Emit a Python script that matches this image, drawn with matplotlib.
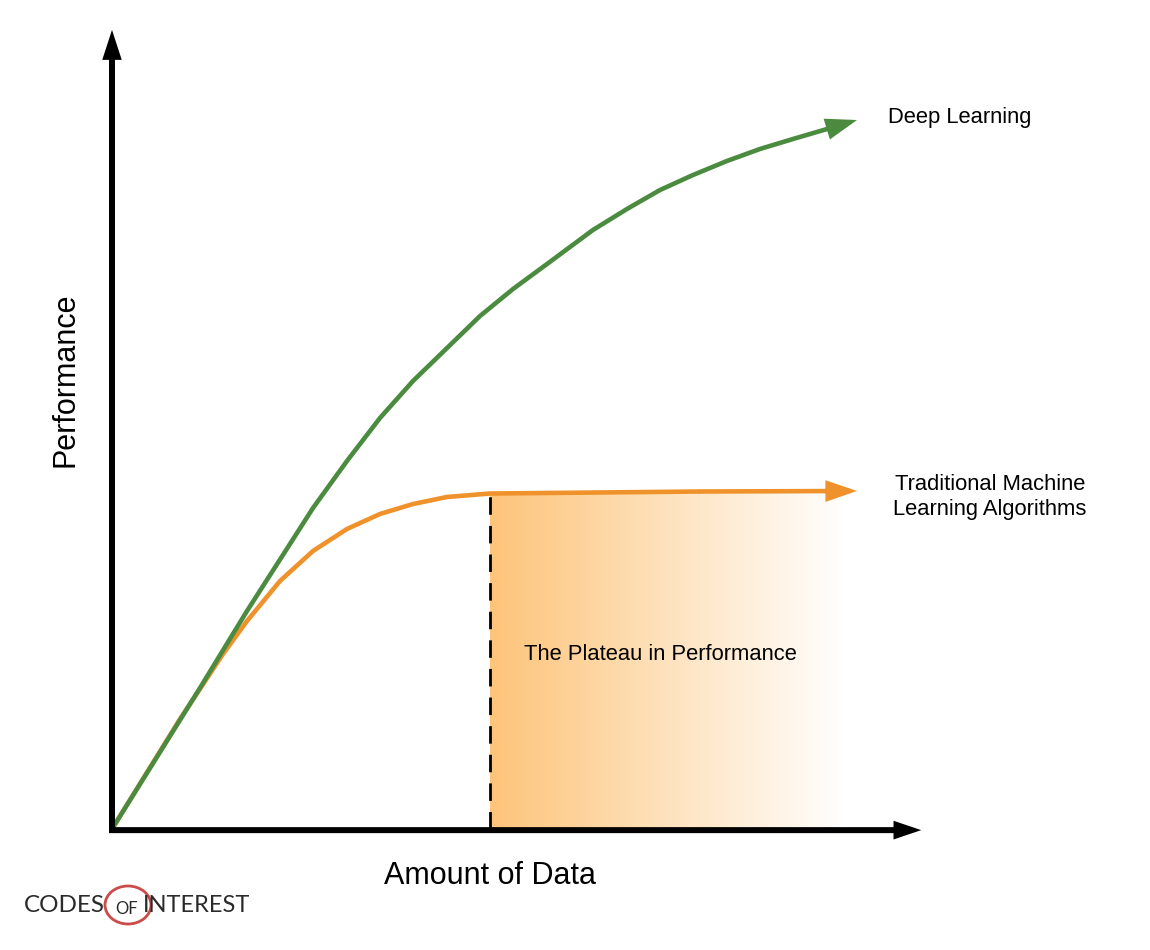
import numpy as np
import matplotlib
matplotlib.use("Agg")
import matplotlib.pyplot as plt
from matplotlib.colors import LinearSegmentedColormap
from matplotlib.patches import Circle

# ---- data (arbitrary units: amount of data vs. performance) ----
dl_x = [0.0, 11.73, 18.0, 23.73, 26.8, 31.33, 35.73, 40.13, 44.67, 49.07, 53.47, 58.0,
        64.13, 68.67, 73.07, 77.47, 82.0, 86.4, 90.8, 95.33, 99.33]
dl_y = [0.0, 18.8, 29.07, 38.0, 42.8, 49.07, 54.8, 59.73, 64.13, 68.4, 72.0, 75.33,
        79.87, 82.67, 85.2, 87.2, 89.07, 90.67, 92.0, 93.33, 94.53]

ml_x = [0.0, 9.07, 11.73, 14.8, 18.0, 22.4, 26.8, 31.33, 35.73, 40.13, 44.67, 50.4,
        65.07, 78.4, 99.33]
ml_y = [0.0, 14.67, 18.67, 23.33, 27.73, 33.07, 37.07, 40.0, 42.0, 43.33, 44.27, 44.73,
        44.87, 45.0, 45.07]

plateau_start = 50.4
plateau_end = 97.5
plateau_level = 44.7

labels = {
    "dl": "Deep Learning",
    "ml": "Traditional Machine\nLearning Algorithms",
    "plateau": "The Plateau in Performance",
    "x": "Amount of Data",
    "y": "Performance",
}

GREEN = "#4B8B3F"
ORANGE = "#F0922B"
FONT = ["Liberation Sans", "DejaVu Sans"]

fig = plt.figure(figsize=(11.5, 9.5), dpi=100)
ax = fig.add_axes([0, 0, 1, 1])
ax.set_xlim(-14.933, 138.4)
ax.set_ylim(-16.133, 110.533)
ax.axis("off")

# gradient plateau region
cmap = LinearSegmentedColormap.from_list("fade", ["#FDC47A", "#FEE2BD", "#FFFFFF"])
grad = np.linspace(0, 1, 256).reshape(1, -1)
ax.imshow(grad, cmap=cmap, extent=[plateau_start, plateau_end, 0, plateau_level],
          aspect="auto", zorder=1, interpolation="bilinear")

# dashed vertical line
ax.plot([plateau_start, plateau_start], [0, plateau_level], color="black", lw=2.0,
        dashes=(6.3, 4), zorder=2)

# curves
arrow_style = "-|>,head_length=1.6,head_width=0.55"
ax.plot(ml_x[:-1], ml_y[:-1], color=ORANGE, lw=3.3, zorder=3, solid_capstyle="butt",
        solid_joinstyle="round")
ax.annotate("", xy=(ml_x[-1], ml_y[-1]), xytext=(ml_x[-2], ml_y[-2]),
            arrowprops=dict(arrowstyle=arrow_style, color=ORANGE, lw=3.3,
                            shrinkA=0, shrinkB=0, joinstyle="miter"), zorder=3)
ax.plot(dl_x[:-1], dl_y[:-1], color=GREEN, lw=3.3, zorder=3, solid_capstyle="butt",
        solid_joinstyle="round")
ax.annotate("", xy=(dl_x[-1], dl_y[-1]), xytext=(dl_x[-2], dl_y[-2]),
            arrowprops=dict(arrowstyle=arrow_style, color=GREEN, lw=3.3,
                            shrinkA=0, shrinkB=0, joinstyle="miter"), zorder=3)

# axes arrows
ax.arrow(0, -0.45, 0, 107.0, width=0.8, head_width=2.6, head_length=4.0,
         length_includes_head=True, lw=0, color="black", zorder=5)
ax.arrow(-0.4, -0.15, 108.3, 0, width=0.8, head_width=2.5, head_length=3.7,
         length_includes_head=True, lw=0, color="black", zorder=5)

# labels
def fx(px):
    return px / 1150.0

def fy(py):
    return 1 - py / 950.0

fig.text(fx(888), fy(117), labels["dl"], fontsize=15.8, family=FONT, ha="left", va="center")
fig.text(fx(990), fy(497), labels["ml"], fontsize=15.8, family=FONT, ha="center",
         va="center", linespacing=1.2)
fig.text(fx(660), fy(655), labels["plateau"], fontsize=15.8, family=FONT, ha="center",
         va="center")
fig.text(fx(490), fy(876), labels["x"], fontsize=22, family=FONT, ha="center", va="center")
fig.text(fx(66), fy(380), labels["y"], fontsize=22, family=FONT, ha="center", va="center",
         rotation=90)

# logo
logo_font = ["Lato", "DejaVu Sans"]
fig.text(fx(24), fy(906), "CODES", fontsize=17.5, family=logo_font, weight="normal",
         color="#2a2a2a", ha="left", va="center")
fig.text(fx(115), fy(909), "OF", fontsize=12, family=logo_font, weight="normal",
         color="#2a2a2a", ha="left", va="center")
fig.text(fx(143), fy(906), "INTEREST", fontsize=17, family=logo_font, weight="normal",
         color="#2a2a2a", ha="left", va="center")
circ = Circle((fx(128), fy(905)), 23 / 1150.0, transform=fig.transFigure, fill=False,
              edgecolor="#CC4A4A", lw=2.0)
fig.patches.append(circ)

fig.savefig("out.png", dpi=100)
